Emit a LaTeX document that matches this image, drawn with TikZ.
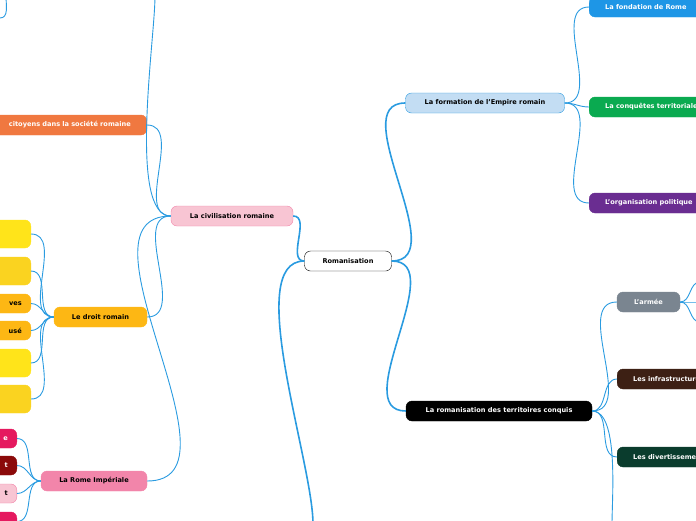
\documentclass[tikz,border=0pt]{standalone}
\usepackage{fontspec}
\setmainfont{DejaVu Sans}
\begin{document}
\begin{tikzpicture}[x=1pt,y=-1pt,
  box/.style={rounded corners=6pt,minimum height=20pt,inner ysep=0pt,font=\fontsize{6.6}{7.5}\selectfont\bfseries,draw=#1,fill=#1},
  rbox/.style={box=#1,anchor=west,text width=140pt,align=left,inner xsep=16pt,text=white},
  lbox/.style={box=#1,anchor=east,text width=180pt,align=right,inner xsep=16pt},
  link/.style={draw=cline,line width=0.9pt},
  thick link/.style={draw=cline,line width=1.6pt}]
\definecolor{cline}{HTML}{2A9BE0}
\definecolor{cpink}{HTML}{F8C5D3}
\definecolor{cpinkd}{HTML}{F285AA}
\definecolor{cblue}{HTML}{C3DDF3}
\definecolor{cfond}{HTML}{1E96E6}
\definecolor{cgreen}{HTML}{0AAA50}
\definecolor{cpurple}{HTML}{6A2D91}
\definecolor{cgray}{HTML}{7A8590}
\definecolor{cbrown}{HTML}{3D2014}
\definecolor{cdgreen}{HTML}{0A3C2D}
\definecolor{corange}{HTML}{F07840}
\definecolor{cgold}{HTML}{FDB714}
\definecolor{cyel}{HTML}{FFE41A}
\definecolor{cyel2}{HTML}{FAD320}
\definecolor{cmag}{HTML}{E5195F}
\definecolor{cred}{HTML}{8B0A0A}
\definecolor{clpink}{HTML}{F8C5D3}
\useasboundingbox (0,0) rectangle (696,520);
\clip (0,0) rectangle (696,520);
% main nodes
\node[box=black,fill=white,minimum width=87pt] (root) at (348,261) {Romanisation};
\node[box=cpinkd,fill=cpink,minimum width=122pt] (civ) at (232,216) {La civilisation romaine};
\node[box=cline,fill=cblue,minimum width=159pt] (form) at (485,103) {La formation de l'Empire romain};
\node[box=black,text=white,minimum width=186pt] (terr) at (499,411) {La romanisation des territoires conquis};
% right
\node[rbox=cfond] (fond) at (589,7) {La fondation de Rome};
\node[rbox=cgreen] (conq) at (589,107) {La conquêtes territoriales};
\node[rbox=cpurple] (orga) at (589,203) {L'organisation politique};
\node[box=cgray,text=white,minimum width=63pt] (armee) at (648.5,302) {L'armée};
\node[rbox=cbrown] (infra) at (617,379) {Les infrastructures};
\node[rbox=cdgreen] (div) at (617,457) {Les divertissements};
\coordinate (a1) at (700,282);
\coordinate (a2) at (700,302);
\coordinate (a3) at (700,322);
\coordinate (tdown) at (612,524);
\coordinate (rdown) at (313,524);
% left
\node[lbox=corange,text=white] (cit) at (147,125) {citoyens dans la société romaine};
\node[box=cgold,minimum width=93pt] (droit) at (100.5,317) {Le droit romain};
\node[box=cpinkd,minimum width=106pt] (imp) at (94,481) {La Rome Impériale};
\coordinate (ctop) at (155,-4);
\coordinate (tl1) at (0,18);
\node[lbox=cyel,minimum height=28pt,inner xsep=9pt] (d1) at (31,234) {};
\node[lbox=cyel2,minimum height=28pt,inner xsep=9pt] (d2) at (31,271) {};
\node[lbox=cgold,minimum height=19pt,inner xsep=9pt] (d3) at (31,303.5) {ves};
\node[lbox=cgold,minimum height=19pt,inner xsep=9pt] (d4) at (31,330.5) {usé};
\node[lbox=cyel,minimum height=28pt,inner xsep=9pt] (d5) at (31,363) {};
\node[lbox=cyel2,minimum height=28pt,inner xsep=9pt] (d6) at (31,399) {};
\node[lbox=cmag,minimum height=19pt,inner xsep=9pt,text=white] (i1) at (17,438.5) {e};
\node[lbox=cred,minimum height=19pt,inner xsep=9pt,text=white] (i2) at (17,465.5) {t};
\node[lbox=clpink,draw=cpinkd,minimum height=19pt,inner xsep=9pt] (i3) at (17,493.5) {t};
\node[lbox=cmag,minimum height=19pt,inner xsep=9pt] (i4) at (17,521.5) {};
% connectors
\draw[thick link] (root.west) to[out=180,in=0] (civ.east);
\draw[thick link] (root.east) to[out=0,in=180] (form.west);
\draw[thick link] (root.east) to[out=0,in=180] (terr.west);
\draw[thick link] (root.west) to[out=180,in=90,looseness=0.6] (rdown);
\foreach \t in {fond,conq,orga} \draw[link] (form.east) to[out=0,in=180] (\t.west);
\foreach \t in {armee,infra,div} \draw[link] (terr.east) to[out=0,in=180] (\t.west);
\draw[link] (terr.east) to[out=0,in=90,looseness=0.6] (tdown);
\foreach \t in {a1,a2,a3} \draw[link] (armee.east) to[out=0,in=180] (\t);
\draw[link] (civ.west) to[out=180,in=-90,looseness=0.5] (ctop);
\foreach \t in {cit,droit,imp} \draw[link] (civ.west) to[out=180,in=0] (\t.east);
\foreach \t in {d1,d2,d3,d4,d5,d6} \draw[link] (droit.west) to[out=180,in=0] (\t.east);
\foreach \t in {i1,i2,i3,i4} \draw[link] (imp.west) to[out=180,in=0] (\t.east);
\draw[link] (tl1) to[out=0,in=-90] (6,-4);
\end{tikzpicture}
\end{document}
